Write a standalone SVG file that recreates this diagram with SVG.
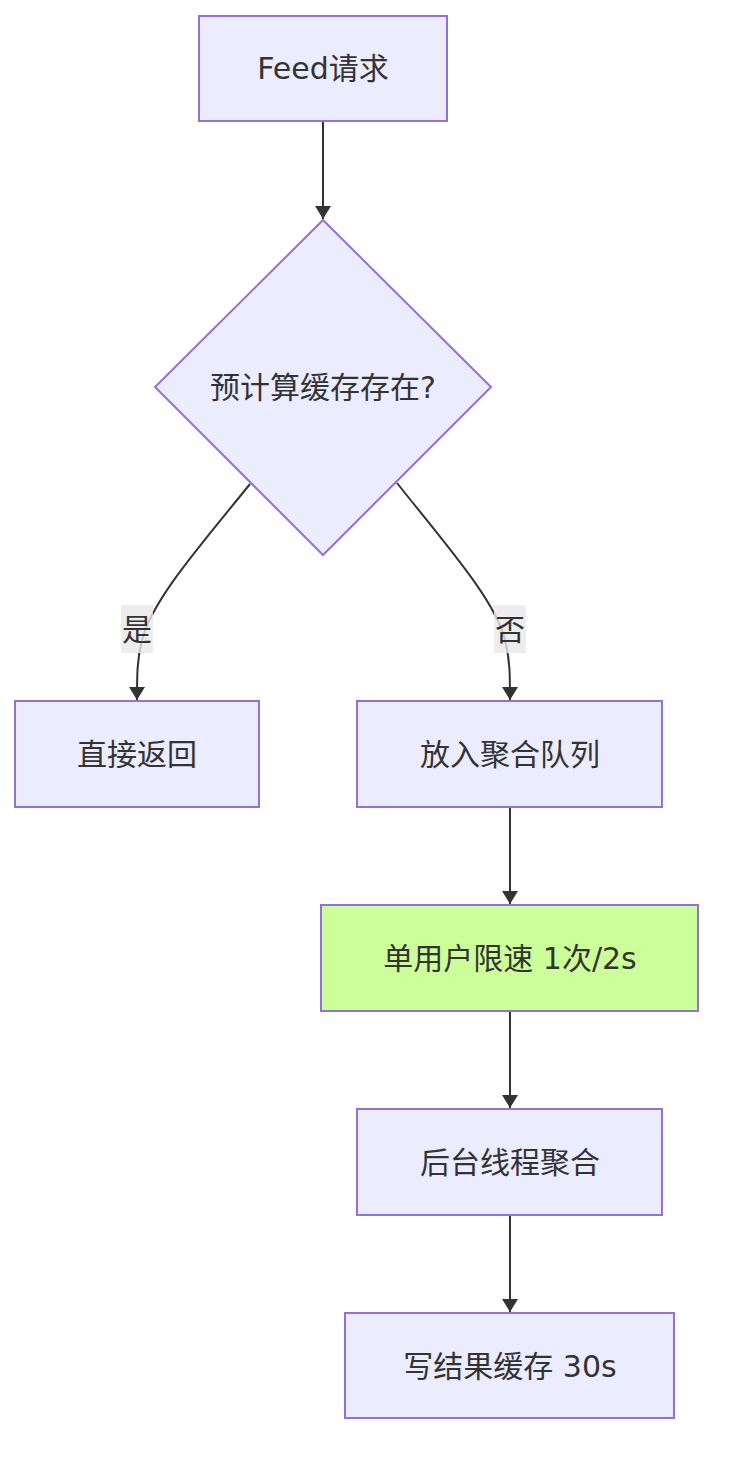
<svg xmlns="http://www.w3.org/2000/svg" width="730" height="1464" viewBox="0 0 730 1464">
<style>
.node rect, .node polygon { fill:#ECECFF; stroke:#9370DB; stroke-width:2; }
.node.hl rect { fill:#ccff99; }
.label { font-family:"DejaVu Sans","Noto Sans CJK SC",sans-serif; font-size:30px; fill:#333; text-anchor:middle; dominant-baseline:central; }
.edge { fill:none; stroke:#333; stroke-width:2; }
.elbg { fill:#e8e8e8; opacity:0.8; }
</style>
<defs>
<marker id="arrow" viewBox="0 0 13 16" refX="13" refY="8" markerUnits="userSpaceOnUse" markerWidth="13" markerHeight="16" orient="auto">
<path d="M0,0 L13,8 L0,16 z" fill="#333"/>
</marker>
</defs>
<rect width="730" height="1464" fill="#fff"/>
<g id="connectors">
<path class="edge" d="M323,121 L323,219" marker-end="url(#arrow)"/>
<path class="edge" d="M250,484 C200,546 152,600 142,640 C137,660 137,675 137,700" marker-end="url(#arrow)"/>
<path class="edge" d="M397,483 C447,546 495,600 505,640 C510,660 510,675 510,700" marker-end="url(#arrow)"/>
<path class="edge" d="M510,807 L510,904" marker-end="url(#arrow)"/>
<path class="edge" d="M510,1011 L510,1108" marker-end="url(#arrow)"/>
<path class="edge" d="M510,1215 L510,1312" marker-end="url(#arrow)"/>
<g id="label-yes">
<rect class="elbg" x="121" y="605" width="32" height="48"/>
<text class="label" x="137" y="629">是</text>
</g>
<g id="label-no">
<rect class="elbg" x="494" y="605" width="32" height="48"/>
<text class="label" x="510" y="629">否</text>
</g>
</g>
<g id="feed" class="node">
<rect x="199" y="16" width="248" height="105"/>
<text class="label" x="323" y="68">Feed请求</text>
</g>
<g id="check" class="node">
<polygon points="323,220 491,387 323,555 155,387"/>
<text class="label" x="323" y="387">预计算缓存存在?</text>
</g>
<g id="direct" class="node">
<rect x="15" y="701" width="244" height="106"/>
<text class="label" x="137" y="754">直接返回</text>
</g>
<g id="queue" class="node">
<rect x="357" y="701" width="305" height="106"/>
<text class="label" x="510" y="754">放入聚合队列</text>
</g>
<g id="limit" class="node hl">
<rect x="321" y="905" width="377" height="106"/>
<text class="label" x="510" y="958">单用户限速 1次/2s</text>
</g>
<g id="agg" class="node">
<rect x="357" y="1109" width="305" height="106"/>
<text class="label" x="510" y="1162">后台线程聚合</text>
</g>
<g id="cache" class="node">
<rect x="345" y="1313" width="329" height="105"/>
<text class="label" x="510" y="1366">写结果缓存 30s</text>
</g>
</svg>
